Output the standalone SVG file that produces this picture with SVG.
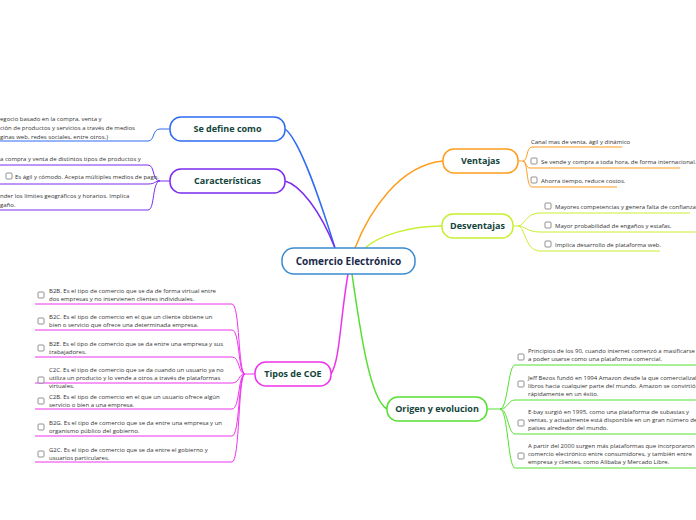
<svg xmlns="http://www.w3.org/2000/svg" width="696" height="520" viewBox="0 0 696 520">
<style>
text{font-family:"Open Sans","Noto Sans","Liberation Sans",sans-serif;fill:#333}
.t{font-size:6px}
.h{font-size:9px;font-weight:bold;fill:#12443a}
.cb{fill:#fff;stroke:#777;stroke-width:0.8}
.box{fill:#fff;stroke-width:1.5}
</style>
<rect width="696" height="520" fill="#fff"/>
<g id="connectors" fill="none">
<path d="M335 248 C320 200 300 140 285 129" stroke="#2f6bf3" stroke-width="1.5"/>
<path d="M335 248 C320 210 300 185 285 181" stroke="#7b2cf0" stroke-width="1.5"/>
<path d="M355 248 C370 210 400 165 443 161" stroke="#ff9d1c" stroke-width="1.5"/>
<path d="M365 248 C380 235 410 226 442 226" stroke="#c8f032" stroke-width="1.5"/>
<path d="M348 274 C340 320 340 360 331 374" stroke="#ee33ee" stroke-width="1.5"/>
<path d="M352 274 C360 330 370 400 387 409" stroke="#55e030" stroke-width="1.5"/>
<g stroke="#2f6bf3"><path d="M170 129 H160 C152 129 155 141 148 141 H0"/></g>
<g stroke="#7b2cf0"><path d="M170 181 H160 C152 181 155 165 148 165 H0"/><path d="M160 181 C155 181 155 184 148 184 H0"/><path d="M160 181 C152 181 155 210 148 210 H0"/></g>
<g stroke="#ff9d1c"><path d="M518 161 H523 C528 161 526 147 532 147 H622"/><path d="M523 161 C526 161 526 168 530 168 H680"/><path d="M523 161 C528 161 526 187 532 187 H617"/></g>
<g stroke="#c8f032"><path d="M513 226 H518 C525 226 525 213 540 213 H690"/><path d="M518 226 C525 226 527 232 540 232 H696"/><path d="M518 226 C525 226 525 251 540 251 H660"/></g>
<g stroke="#ee33ee"><path d="M255 374 H245 C238 374 240 304 232 304 H35"/><path d="M245 374 C238 374 240 330 232 330 H35"/><path d="M245 374 C238 374 240 357 232 357 H35"/><path d="M245 374 C238 374 240 383 232 383 H35"/><path d="M245 374 C238 374 240 409 232 409 H35"/><path d="M245 374 C238 374 240 436 232 436 H35"/><path d="M245 374 C238 374 240 462 232 462 H35"/></g>
<g stroke="#55e030"><path d="M387 409 H500 C508 409 508 365 515 365 H696"/><path d="M500 409 C508 409 508 400 515 400 H696"/><path d="M500 409 C508 409 508 434 515 434 H696"/><path d="M500 409 C508 409 508 468 515 468 H696"/></g>
</g>
<g id="center"><rect x="282" y="248" width="133" height="26" rx="12" fill="#fff" stroke="#3a8ad0" stroke-width="1.5"/><text x="348.5" y="265" text-anchor="middle" style="font-size:10px;font-weight:bold;fill:#1a2a4a">Comercio Electrónico</text></g>
<g id="define"><rect class="box" x="170" y="117" width="115" height="24" rx="11" stroke="#2f6bf3"/><text class="h" x="227.5" y="132" text-anchor="middle">Se define como</text>
<text class="t" x="0" y="121">egocio basado en la compra, venta y</text><text class="t" x="0" y="130">ción de productos y servicios a través de medios</text><text class="t" x="0" y="139">ginas web, redes sociales, entre otros.)</text></g>
<g id="caracteristicas"><rect class="box" x="170" y="169" width="115" height="24" rx="11" stroke="#7b2cf0"/><text class="h" x="227.5" y="184" text-anchor="middle">Características</text>
<text class="t" x="0" y="161">a compra y venta de distintos tipos de productos y</text>
<rect class="cb" x="6" y="173" width="6" height="6" rx="1"/><text class="t" x="15" y="179">Es ágil y cómodo. Acepta múltiples medios de pago.</text>
<text class="t" x="0" y="198">nder los límites geográficos y horarios. Implica</text><text class="t" x="0" y="207">gaño.</text></g>
<g id="ventajas"><rect class="box" x="443" y="149" width="75" height="24" rx="11" stroke="#ff9d1c"/><text class="h" x="480.5" y="164" text-anchor="middle">Ventajas</text>
<text class="t" x="531" y="144">Canal mas de venta, ágil y dinámico</text>
<rect class="cb" x="531" y="158" width="6" height="6" rx="1"/><text class="t" x="541" y="164">Se vende y compra a toda hora, de forma internacional.</text>
<rect class="cb" x="531" y="177" width="6" height="6" rx="1"/><text class="t" x="541" y="183">Ahorra tiempo, reduce costos.</text></g>
<g id="desventajas"><rect class="box" x="442" y="214" width="71" height="24" rx="11" stroke="#c8f032"/><text class="h" x="477.5" y="229" text-anchor="middle">Desventajas</text>
<rect class="cb" x="545" y="203" width="6" height="6" rx="1"/><text class="t" x="555" y="209">Mayores competencias y genera falta de confianza.</text>
<rect class="cb" x="545" y="222" width="6" height="6" rx="1"/><text class="t" x="555" y="228">Mayor probabilidad de engaños y estafas.</text>
<rect class="cb" x="545" y="241" width="6" height="6" rx="1"/><text class="t" x="555" y="247">Implica desarrollo de plataforma web.</text></g>
<g id="tipos"><rect class="box" x="255" y="362" width="76" height="24" rx="11" stroke="#ee33ee"/><text class="h" x="293" y="377" text-anchor="middle">Tipos de COE</text>
<rect class="cb" x="38" y="292" width="6" height="6" rx="1"/><text class="t" x="49" y="293">B2B. Es el tipo de comercio que se da de forma virtual entre</text><text class="t" x="49" y="301">dos empresas y no intervienen clientes individuales.</text>
<rect class="cb" x="38" y="318" width="6" height="6" rx="1"/><text class="t" x="49" y="319">B2C. Es el tipo de comercio en el que un cliente obtiene un</text><text class="t" x="49" y="327">bien o servicio que ofrece una determinada empresa.</text>
<rect class="cb" x="38" y="345" width="6" height="6" rx="1"/><text class="t" x="49" y="346">B2E. Es el tipo de comercio que se da entre una empresa y sus</text><text class="t" x="49" y="354">trabajadores.</text>
<rect class="cb" x="38" y="377" width="6" height="6" rx="1"/><text class="t" x="49" y="372">C2C. Es el tipo de comercio que se da cuando un usuario ya no</text><text class="t" x="49" y="380">utiliza un producto y lo vende a otros a través de plataformas</text><text class="t" x="49" y="388">virtuales.</text>
<rect class="cb" x="38" y="398" width="6" height="6" rx="1"/><text class="t" x="49" y="399">C2B. Es el tipo de comercio en el que un usuario ofrece algún</text><text class="t" x="49" y="407">servicio o bien a una empresa.</text>
<rect class="cb" x="38" y="424" width="6" height="6" rx="1"/><text class="t" x="49" y="425">B2G. Es el tipo de comercio que se da entre una empresa y un</text><text class="t" x="49" y="433">organismo público del gobierno.</text>
<rect class="cb" x="38" y="451" width="6" height="6" rx="1"/><text class="t" x="49" y="452">G2C. Es el tipo de comercio que se da entre el gobierno y</text><text class="t" x="49" y="460">usuarios particulares.</text></g>
<g id="origen"><rect class="box" x="387" y="397" width="100" height="24" rx="11" stroke="#55e030"/><text class="h" x="437" y="412" text-anchor="middle">Origen y evolucion</text>
<rect class="cb" x="518" y="354" width="6" height="6" rx="1"/><text class="t" x="528" y="353">Principios de los 90, cuando internet comenzó a masificarse y</text><text class="t" x="528" y="361">a poder usarse como una plataforma comercial.</text>
<rect class="cb" x="518" y="381" width="6" height="6" rx="1"/><text class="t" x="528" y="380">Jeff Bezos fundó en 1994 Amazon desde la que comercializaba</text><text class="t" x="528" y="388">libros hacia cualquier parte del mundo. Amazon se convirtió</text><text class="t" x="528" y="396">rápidamente en un éxito.</text>
<rect class="cb" x="518" y="420" width="6" height="6" rx="1"/><text class="t" x="528" y="414">E-bay  surgió en 1995, como una plataforma de subastas y</text><text class="t" x="528" y="422">ventas, y actualmente está disponible en un gran número de</text><text class="t" x="528" y="430">países alrededor del mundo.</text>
<rect class="cb" x="518" y="453" width="6" height="6" rx="1"/><text class="t" x="528" y="448">A partir del 2000 surgen más plataformas que incorporaron el</text><text class="t" x="528" y="456">comercio electrónico entre consumidores, y también entre</text><text class="t" x="528" y="464">empresa y clientes, como Alibaba y Mercado Libre.</text></g>
</svg>
